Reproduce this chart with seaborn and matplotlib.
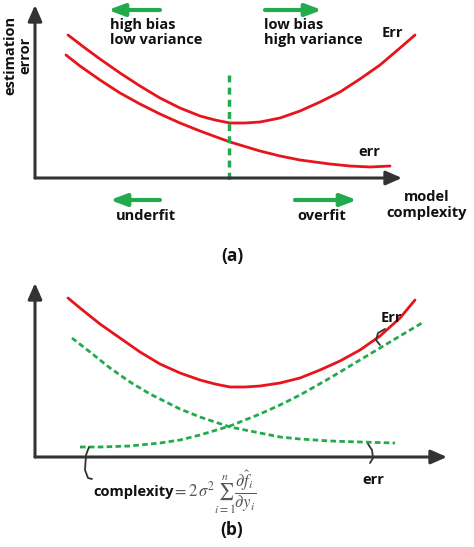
import matplotlib
matplotlib.use("Agg")
import matplotlib.pyplot as plt
import seaborn as sns
import pandas as pd

sns.set_theme(style="white")
plt.rcParams['font.family'] = ['Open Sans', 'DejaVu Sans']
plt.rcParams['mathtext.fontset'] = 'stix'

# Panel (a) curves (pixel-like coordinates)
a_Err_x = [68, 85, 100, 120, 140, 160, 180, 200, 215, 230, 245, 260, 280, 300, 320, 340, 360, 380, 400, 415]
a_Err_y = [35, 48, 59, 73, 86, 98, 108, 116, 120, 123, 123, 122, 118, 111, 102, 92, 79, 65, 48, 35]
a_err_x = [66, 80, 100, 120, 140, 160, 180, 200, 230, 260, 280, 300, 330, 350, 370, 390]
a_err_y = [55, 66, 80, 93, 104, 114, 123, 131, 142, 151, 156, 160, 164, 166, 167, 166]
# Panel (b) curves
b_Err_x = [68, 80, 100, 120, 140, 160, 180, 200, 215, 230, 245, 260, 280, 300, 320, 340, 360, 380, 400, 415]
b_Err_y = [298, 308, 324, 338, 352, 364, 373, 380, 384, 387, 387, 386, 383, 378, 370, 361, 350, 336, 318, 300]
b_up_x = [80, 100, 130, 160, 180, 200, 230, 260, 280, 300, 330, 360, 380, 400, 422]
b_up_y = [447, 447, 446, 443, 440, 435, 426, 414, 405, 395, 378, 360, 348, 336, 323]
b_dn_x = [72, 90, 110, 130, 150, 180, 200, 230, 260, 280, 300, 330, 360, 395]
b_dn_y = [338, 352, 368, 382, 394, 409, 417, 427, 433, 437, 439, 441, 442, 443]

RED = '#e8141c'
GREEN = '#22aa4c'
AX = '#333333'

fig = plt.figure(figsize=(4.74, 5.47), dpi=100)
ax = fig.add_axes([0, 0, 1, 1])
ax.set_xlim(0, 474)
ax.set_ylim(547, 0)
ax.axis('off')

def curve(xs, ys, color, ls='-'):
    df = pd.DataFrame({'x': xs, 'y': ys})
    sns.lineplot(data=df, x='x', y='y', ax=ax, sort=False, color=color,
                 lw=2, linestyle=ls, estimator=None)

def arrow(x0, y0, x1, y1, color, lw=2.2, hw=0.35):
    ax.annotate('', xy=(x1, y1), xytext=(x0, y0),
                arrowprops=dict(arrowstyle=f'-|>,head_width={hw},head_length=0.8',
                                color=color, lw=lw, shrinkA=0, shrinkB=0))

txt = dict(fontsize=10.5, fontweight='bold', color='#111111')

# ---- panel (a)
arrow(35, 178, 35, 5, AX)
arrow(35, 178, 402, 178, AX)
curve(a_Err_x, a_Err_y, RED)
curve(a_err_x, a_err_y, RED)
ax.plot([229, 229], [75, 180], color=GREEN, lw=2.5, ls=(0, (2, 1.5)))
arrow(160, 10, 108, 10, GREEN, lw=3, hw=0.3)
arrow(265, 10, 322, 10, GREEN, lw=3, hw=0.3)
ax.text(110, 18, 'high bias\nlow variance', ha='left', va='top', linespacing=1.1, **txt)
ax.text(264, 18, 'low bias\nhigh variance', ha='left', va='top', linespacing=1.1, **txt)
ax.text(382, 33, 'Err', ha='left', va='center', **txt)
ax.text(358, 152, 'err', ha='left', va='center', **txt)
ax.text(18, 55, 'estimation\nerror', rotation=90, ha='center', va='center', linespacing=1.1, **txt)
ax.text(427, 205, 'model\ncomplexity', ha='center', va='center', linespacing=1.1, **txt)
arrow(160, 200, 110, 200, GREEN, lw=3, hw=0.3)
arrow(295, 200, 357, 200, GREEN, lw=3, hw=0.3)
ax.text(116, 216, 'underfit', ha='left', va='center', **txt)
ax.text(297, 216, 'overfit', ha='left', va='center', **txt)
ax.text(232, 256, '(a)', ha='center', va='center', fontsize=12.5, fontweight='bold', color='#111111')

# ---- panel (b)
arrow(35, 457, 35, 283, AX)
arrow(35, 457, 447, 457, AX)
curve(b_Err_x, b_Err_y, RED)
curve(b_up_x, b_up_y, GREEN, ls=(0, (2, 1.2)))
curve(b_dn_x, b_dn_y, GREEN, ls=(0, (2, 1.2)))
ax.text(381, 318, 'Err', ha='left', va='center', **txt)
ax.plot([385, 378, 376, 380], [329, 333, 340, 345], color=AX, lw=1.3)
ax.plot([89, 86, 85, 88, 92], [447, 455, 470, 478, 479], color=AX, lw=1.3)
ax.plot([368, 372, 373, 370], [444, 450, 458, 463], color=AX, lw=1.3)
ax.text(373, 480, 'err', ha='center', va='center', **txt)
ax.text(93, 492, 'complexity', ha='left', va='center', **txt)
ax.text(172, 492, r'$=2\,\sigma^2\sum_{i=1}^{n}\dfrac{\partial\widehat{f}_i}{\partial y_i}$',
        ha='left', va='center', fontsize=12, color='#555555')
ax.text(232, 530, '(b)', ha='center', va='center', fontsize=12.5, fontweight='bold', color='#111111')

fig.savefig('out.png', dpi=100)
